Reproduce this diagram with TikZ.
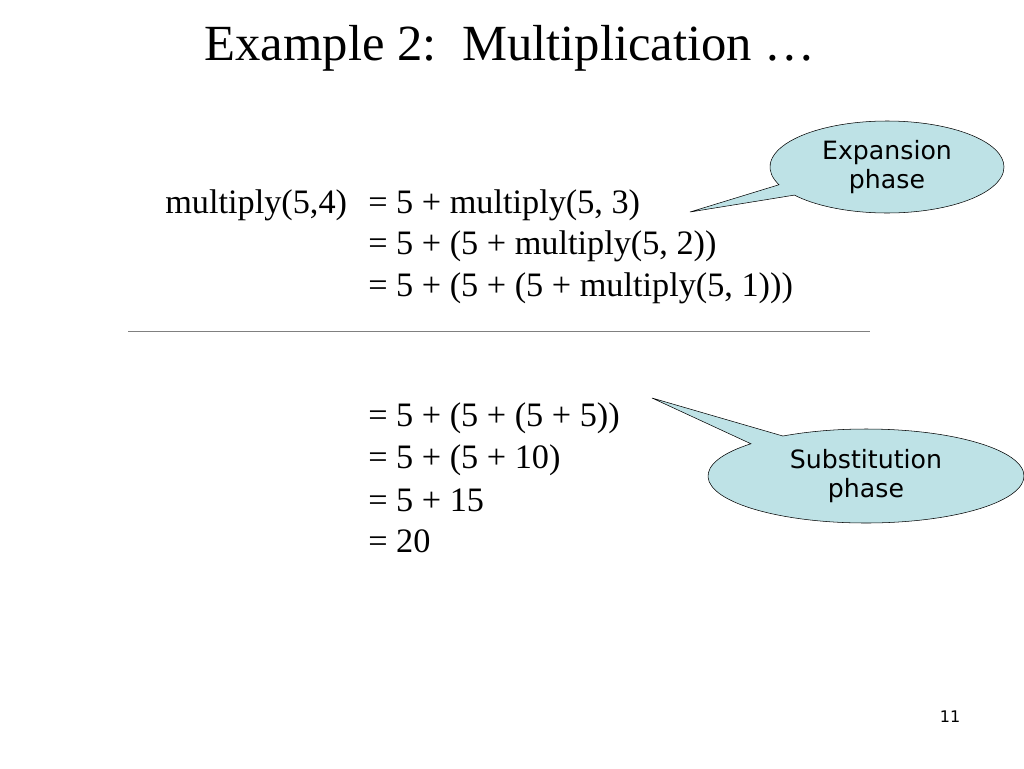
\documentclass[tikz,border=0pt]{standalone}
\usepackage{fontspec}
\setmainfont{Liberation Serif}
\newfontfamily\calloutfont{DejaVu Sans}
\usetikzlibrary{shapes.callouts}
\definecolor{bubble}{RGB}{190,226,230}
\tikzset{
  line/.style={anchor=west,inner sep=0pt,font=\fontsize{25.7}{28}\selectfont},
  bubble/.style={ellipse callout,draw=black,fill=bubble,align=center,
    font=\calloutfont\fontsize{18.9}{22}\selectfont,inner sep=0pt}
}
\begin{document}
\begin{tikzpicture}[x=0.75pt,y=-0.75pt]
\useasboundingbox (0,0) rectangle (1024,768);

\node (title) at (510,48) {\fontsize{38}{42}\selectfont Example 2:\ \ Multiplication \dots};

% expansion lines
\node[line] (call) at (165,205) {multiply(5,4)};
\node[line] (e1) at (368,205) {= 5 + multiply(5, 3)};
\node[line] (e2) at (368,246) {= 5 + (5 + multiply(5, 2))};
\node[line] (e3) at (368,288) {= 5 + (5 + (5 + multiply(5, 1)))};

\draw[gray,thin] (128,331) -- (870,331);

% substitution lines
\node[line] (s1) at (368,418) {= 5 + (5 + (5 + 5))};
\node[line] (s2) at (368,460) {= 5 + (5 + 10)};
\node[line] (s3) at (368,500) {= 5 + 15};
\node[line] (s4) at (368,541) {= 20};

% callouts
\coordinate (tipA) at (690,212);
\coordinate (tipB) at (652,398);
\node[bubble,minimum width=234*0.75pt,minimum height=92*0.75pt,
  callout absolute pointer={(tipA)}] (expansion) at (887,167) {Expansion\\phase};
\node[bubble,minimum width=316*0.75pt,minimum height=94*0.75pt,
  callout absolute pointer={(tipB)}] (substitution) at (866,476) {Substitution\\phase};

\node[font=\calloutfont\fontsize{12}{14}\selectfont] (page) at (950,717) {11};
\end{tikzpicture}
\end{document}
